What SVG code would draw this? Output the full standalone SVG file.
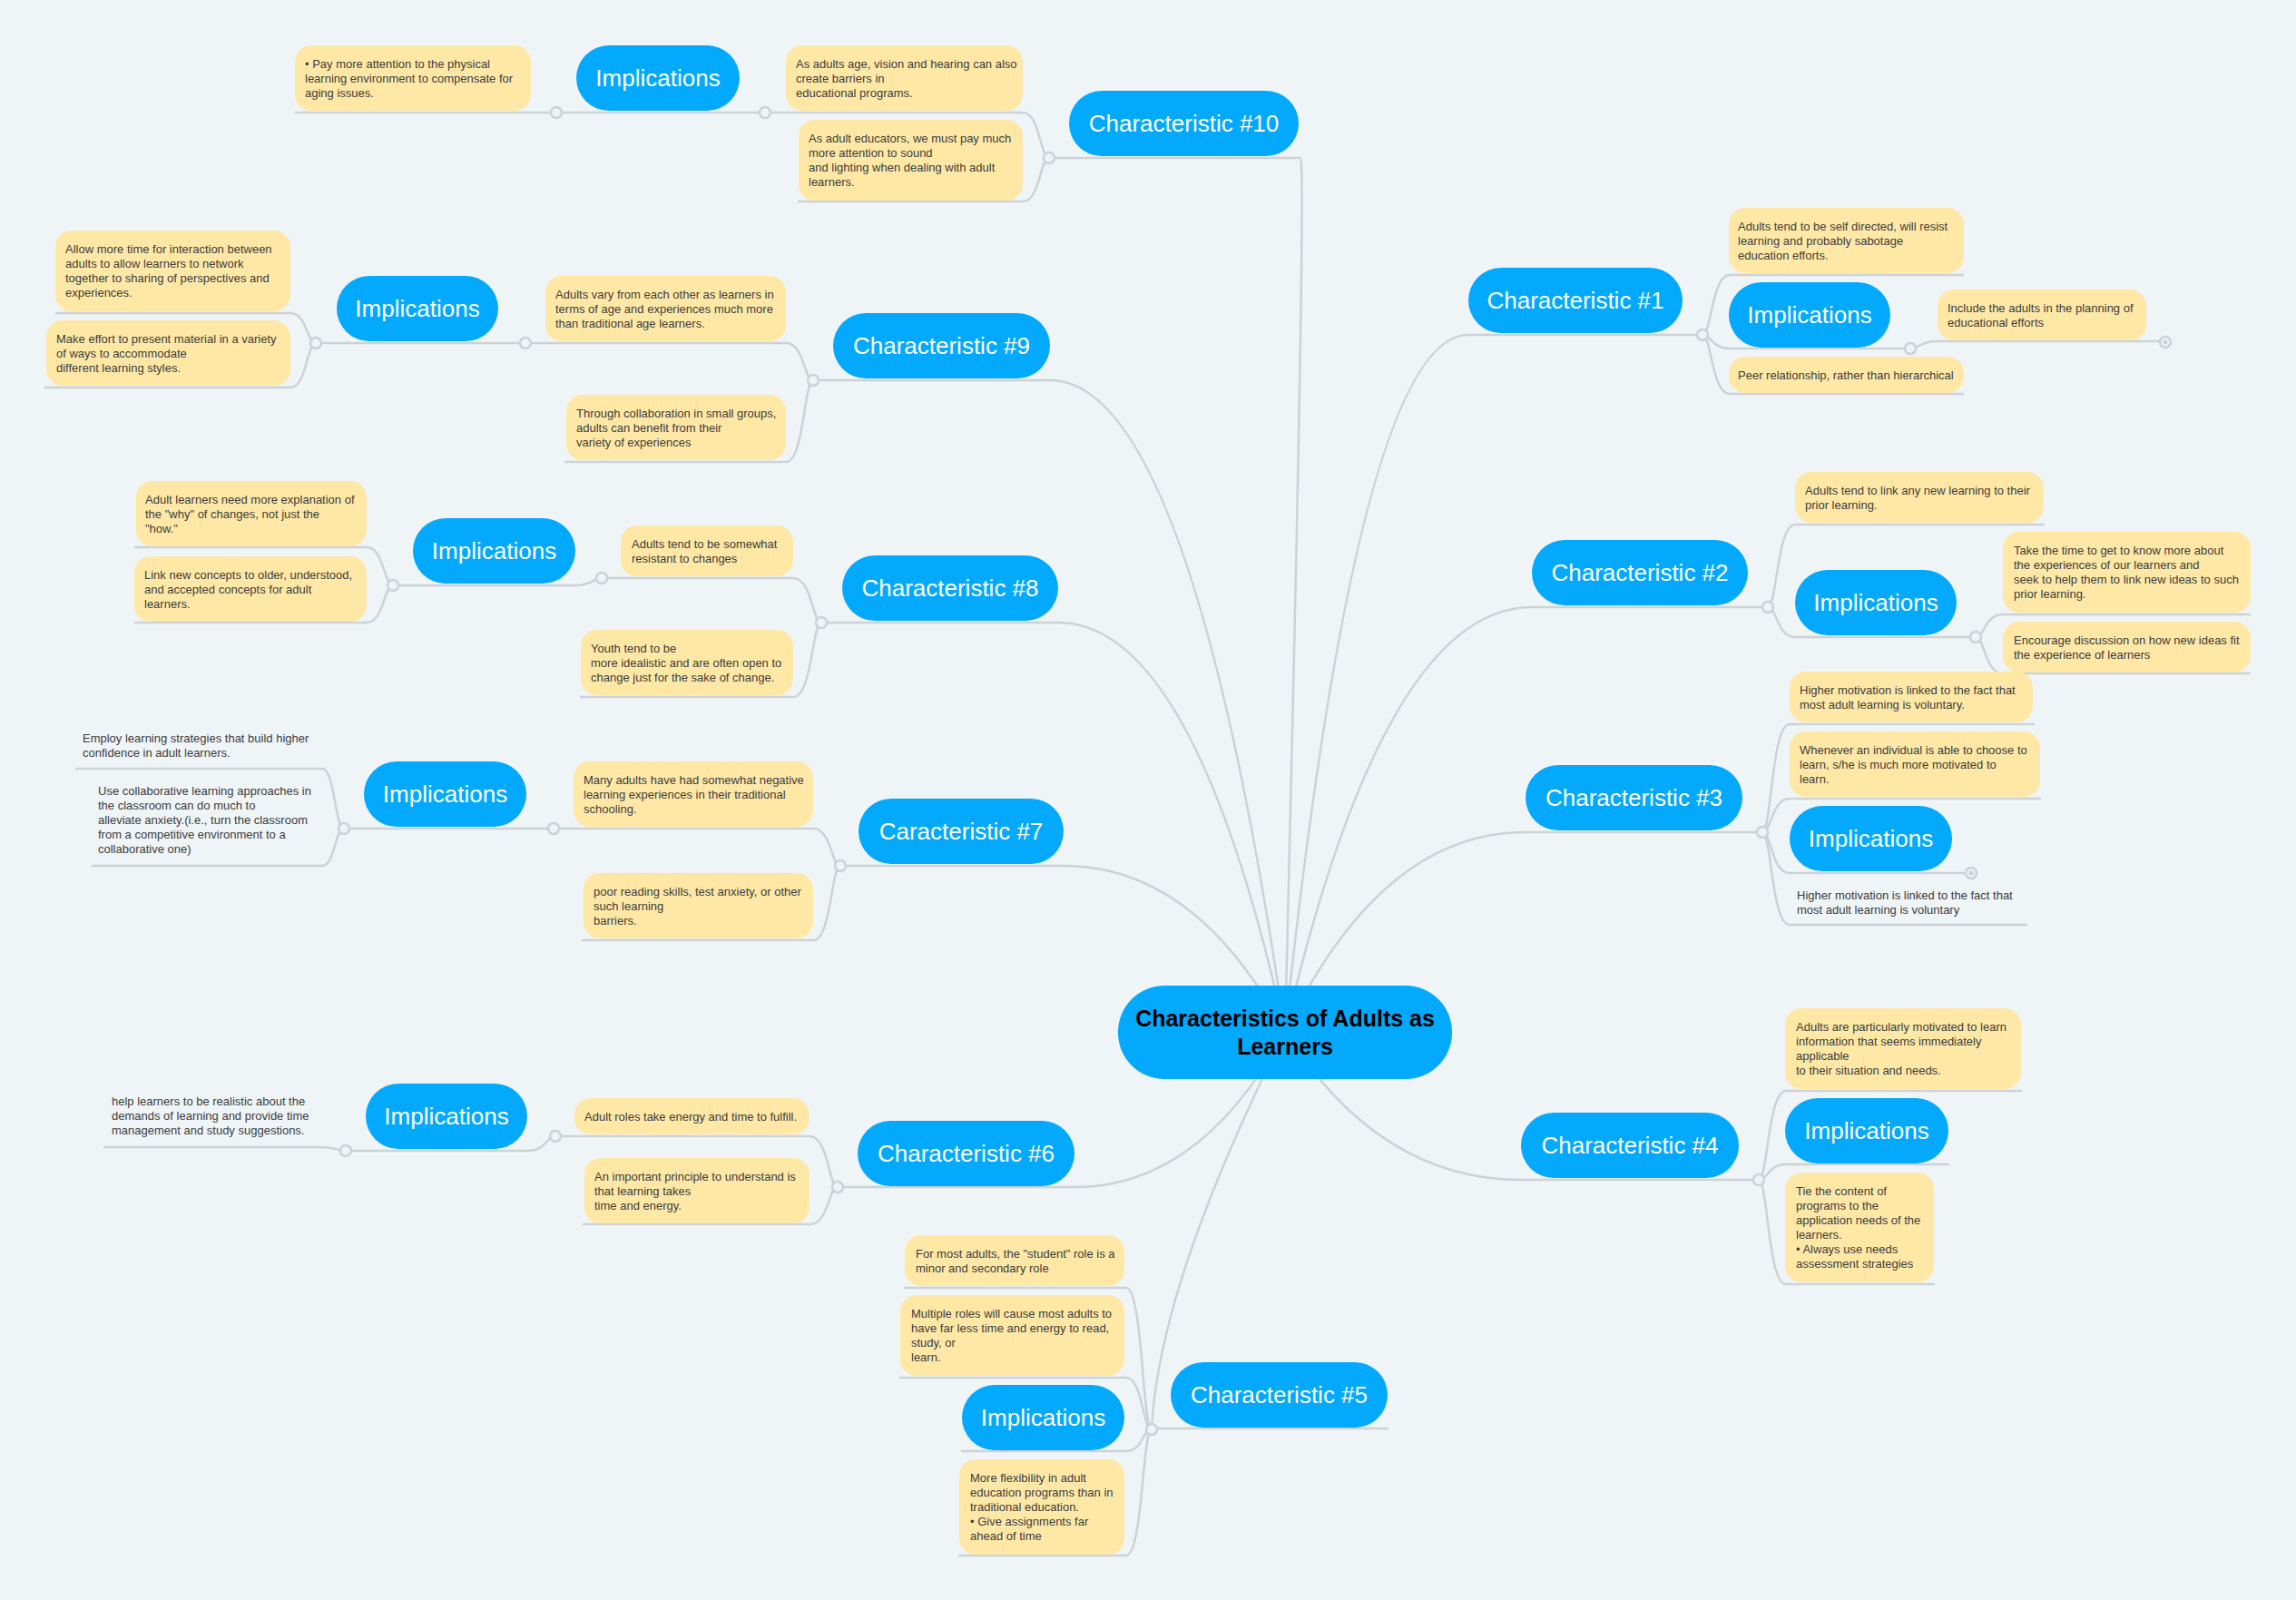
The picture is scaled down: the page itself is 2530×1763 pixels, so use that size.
<svg xmlns="http://www.w3.org/2000/svg" width="2530" height="1763" viewBox="0 0 2530 1763">
<style>
.ln{fill:none;stroke:#cdd2d6;stroke-width:2.5}
.jn{fill:#eff4f7;stroke:#cdd2d6;stroke-width:2.5}
.dot{fill:#cdd2d6}
.blue{fill:#02a9fd}
.leaf{fill:#ffe8a6}
.tb{font-family:'Liberation Sans',Arial,sans-serif;font-size:26px;fill:#ffffff;text-anchor:middle}
.tl{font-family:'Liberation Sans',Arial,sans-serif;font-size:13px;fill:#3c3c3c}
.tc{font-family:'Liberation Sans',Arial,sans-serif;font-size:25px;font-weight:bold;fill:#000000;text-anchor:middle}
</style>
<rect x="0" y="0" width="2530" height="1763" fill="#eff4f7"/>
<g id="connectors">
<!-- main branches -->
<path class="ln" d="M1416 1137 Q1440 174 1433 174"/>
<path class="ln" d="M1416 1137 Q1312 419 1157 419"/>
<path class="ln" d="M1416 1137 Q1316 686 1166 686"/>
<path class="ln" d="M1416 1137 Q1318 954 1172 954"/>
<path class="ln" d="M1416 1137 Q1323 1308 1184 1308"/>
<path class="ln" d="M1416 1137 C1340 1290 1275 1450 1269 1575"/>
<path class="ln" d="M1416 1137 Q1497 369 1618 369"/>
<path class="ln" d="M1416 1137 Q1525 669 1688 669"/>
<path class="ln" d="M1416 1137 Q1522 917 1681 917"/>
<path class="ln" d="M1416 1137 Q1520 1300 1676 1300"/>
<!-- #10 -->
<path class="ln" d="M1156 174 H1433"/>
<path class="ln" d="M843 124 H1127 C1146 124 1146 174 1156 174"/>
<path class="ln" d="M879 222 H1127 C1146 222 1146 174 1156 174"/>
<path class="ln" d="M613 124 H843"/>
<path class="ln" d="M325 124 H613"/>
<!-- #9 -->
<path class="ln" d="M896 419 H1157"/>
<path class="ln" d="M579 378 H866 C886 378 886 419 896 419"/>
<path class="ln" d="M622 509 H866 C886 509 886 419 896 419"/>
<path class="ln" d="M348 378 H579"/>
<path class="ln" d="M61 345 H320 C338 345 338 378 348 378"/>
<path class="ln" d="M49 427 H320 C338 427 338 378 348 378"/>
<!-- #8 -->
<path class="ln" d="M905 686 H1166"/>
<path class="ln" d="M663 637 H874 C895 637 895 686 905 686"/>
<path class="ln" d="M639 768 H874 C895 768 895 686 905 686"/>
<path class="ln" d="M433 645 H634 C653 645 653 637 663 637"/>
<path class="ln" d="M148 603 H404 C423 603 423 645 433 645"/>
<path class="ln" d="M148 686 H404 C423 686 423 645 433 645"/>
<!-- #7 -->
<path class="ln" d="M926 954 H1172"/>
<path class="ln" d="M610 913 H896 C916 913 916 954 926 954"/>
<path class="ln" d="M641 1036 H896 C916 1036 916 954 926 954"/>
<path class="ln" d="M379 913 H610"/>
<path class="ln" d="M83 847 H355 C369 847 369 913 379 913"/>
<path class="ln" d="M101 954 H355 C369 954 369 913 379 913"/>
<!-- #6 -->
<path class="ln" d="M923 1308 H1184"/>
<path class="ln" d="M612 1252 H892 C913 1252 913 1308 923 1308"/>
<path class="ln" d="M642 1349 H892 C913 1349 913 1308 923 1308"/>
<path class="ln" d="M381 1268 H581 C602 1268 602 1252 612 1252"/>
<path class="ln" d="M114 1264 H352 C371 1264 371 1268 381 1268"/>
<!-- #5 -->
<path class="ln" d="M1269 1574 H1530"/>
<path class="ln" d="M996 1419 H1241 C1259 1419 1259 1575 1269 1575"/>
<path class="ln" d="M991 1518 H1241 C1259 1518 1259 1575 1269 1575"/>
<path class="ln" d="M1059 1599 H1241 C1259 1599 1259 1575 1269 1575"/>
<path class="ln" d="M1056 1714 H1241 C1259 1714 1259 1575 1269 1575"/>
<!-- #1 -->
<path class="ln" d="M1618 369 H1876"/>
<path class="ln" d="M1876 369 C1886 369 1886 303 1906 303 H2164"/>
<path class="ln" d="M1876 369 C1886 369 1886 384 1906 384 H2105"/>
<path class="ln" d="M1876 369 C1886 369 1886 434 1906 434 H2164"/>
<path class="ln" d="M2105 384 C2115 384 2115 376 2135 376 H2380"/>
<!-- #2 -->
<path class="ln" d="M1688 669 H1948"/>
<path class="ln" d="M1948 669 C1958 669 1958 578 1978 578 H2253"/>
<path class="ln" d="M1948 669 C1958 669 1958 702 1978 702 H2177"/>
<path class="ln" d="M2177 702 C2187 702 2187 677 2207 677 H2480"/>
<path class="ln" d="M2177 702 C2187 702 2187 742 2207 742 H2480"/>
<!-- #3 -->
<path class="ln" d="M1681 917 H1942"/>
<path class="ln" d="M1942 917 C1952 917 1952 798 1972 798 H2242"/>
<path class="ln" d="M1942 917 C1952 917 1952 880 1972 880 H2249"/>
<path class="ln" d="M1942 917 C1952 917 1952 962 1972 962 H2166"/>
<path class="ln" d="M1942 917 C1952 917 1952 1019 1972 1019 H2234"/>
<!-- #4 -->
<path class="ln" d="M1676 1300 H1938"/>
<path class="ln" d="M1938 1300 C1948 1300 1948 1202 1968 1202 H2228"/>
<path class="ln" d="M1938 1300 C1948 1300 1948 1283 1968 1283 H2148"/>
<path class="ln" d="M1938 1300 C1948 1300 1948 1415 1968 1415 H2132"/>
<!-- junctions -->
<circle class="jn" cx="1156" cy="174" r="6"/>
<circle class="jn" cx="843" cy="124" r="6"/>
<circle class="jn" cx="613" cy="124" r="6"/>
<circle class="jn" cx="896" cy="419" r="6"/>
<circle class="jn" cx="579" cy="378" r="6"/>
<circle class="jn" cx="348" cy="378" r="6"/>
<circle class="jn" cx="905" cy="686" r="6"/>
<circle class="jn" cx="663" cy="637" r="6"/>
<circle class="jn" cx="433" cy="645" r="6"/>
<circle class="jn" cx="926" cy="954" r="6"/>
<circle class="jn" cx="610" cy="913" r="6"/>
<circle class="jn" cx="379" cy="913" r="6"/>
<circle class="jn" cx="923" cy="1308" r="6"/>
<circle class="jn" cx="612" cy="1252" r="6"/>
<circle class="jn" cx="381" cy="1268" r="6"/>
<circle class="jn" cx="1269" cy="1575" r="6"/>
<circle class="jn" cx="1876" cy="369" r="6"/>
<circle class="jn" cx="2105" cy="384" r="6"/>
<circle class="jn" cx="1948" cy="669" r="6"/>
<circle class="jn" cx="2177" cy="702" r="6"/>
<circle class="jn" cx="1942" cy="917" r="6"/>
<circle class="jn" cx="1938" cy="1300" r="6"/>
<circle class="jn" cx="2386" cy="377" r="6"/>
<circle class="dot" cx="2386" cy="377" r="2.5"/>
<circle class="jn" cx="2172" cy="962" r="6"/>
<circle class="dot" cx="2172" cy="962" r="2.5"/>
</g>

<g id="center">
<rect class="blue" x="1232" y="1086" width="368" height="103" rx="51"/>
<text class="tc"><tspan x="1416" y="1131">Characteristics of Adults as</tspan><tspan x="1416" y="1162">Learners</tspan></text>
</g>

<!-- Characteristic #10 -->
<g id="char10"><rect class="blue" x="1178" y="100" width="253" height="72" rx="36"/><text class="tb" x="1304.5" y="145">Characteristic #10</text></g>
<g id="c10-leaf-age"><rect class="leaf" x="866" y="50" width="261" height="72" rx="18"/><text class="tl"><tspan x="877" y="74.5">As adults age, vision and hearing can also</tspan><tspan x="877" y="90.5">create barriers in</tspan><tspan x="877" y="106.5">educational programs.</tspan></text></g>
<g id="c10-impl"><rect class="blue" x="635" y="50" width="180" height="72" rx="36"/><text class="tb" x="725" y="95">Implications</text></g>
<g id="c10-impl-leaf"><rect class="leaf" x="325" y="50" width="260" height="72" rx="18"/><text class="tl"><tspan x="336" y="74.5">• Pay more attention to the physical</tspan><tspan x="336" y="90.5">learning environment to compensate for</tspan><tspan x="336" y="106.5">aging issues.</tspan></text></g>
<g id="c10-leaf-educators"><rect class="leaf" x="880" y="132" width="247" height="89" rx="18"/><text class="tl"><tspan x="891" y="157">As adult educators, we must pay much</tspan><tspan x="891" y="173">more attention to sound</tspan><tspan x="891" y="189">and lighting when dealing with adult</tspan><tspan x="891" y="205">learners.</tspan></text></g>

<!-- Characteristic #9 -->
<g id="char9"><rect class="blue" x="918" y="345" width="239" height="72" rx="36"/><text class="tb" x="1037.5" y="390">Characteristic #9</text></g>
<g id="c9-leaf-vary"><rect class="leaf" x="601" y="304" width="265" height="72" rx="18"/><text class="tl"><tspan x="612" y="328.5">Adults vary from each other as learners in</tspan><tspan x="612" y="344.5">terms of age and experiences much more</tspan><tspan x="612" y="360.5">than traditional age learners.</tspan></text></g>
<g id="c9-impl"><rect class="blue" x="371" y="304" width="178" height="72" rx="36"/><text class="tb" x="460" y="349">Implications</text></g>
<g id="c9-impl-leaf1"><rect class="leaf" x="61" y="254" width="259" height="89" rx="18"/><text class="tl"><tspan x="72" y="279">Allow more time for interaction between</tspan><tspan x="72" y="295">adults to allow learners to network</tspan><tspan x="72" y="311">together to sharing of perspectives and</tspan><tspan x="72" y="327">experiences.</tspan></text></g>
<g id="c9-impl-leaf2"><rect class="leaf" x="51" y="353" width="269" height="72" rx="18"/><text class="tl"><tspan x="62" y="377.5">Make effort to present material in a variety</tspan><tspan x="62" y="393.5">of ways to accommodate</tspan><tspan x="62" y="409.5">different learning styles.</tspan></text></g>
<g id="c9-leaf-collab"><rect class="leaf" x="624" y="435" width="242" height="72" rx="18"/><text class="tl"><tspan x="635" y="459.5">Through collaboration in small groups,</tspan><tspan x="635" y="475.5">adults can benefit from their</tspan><tspan x="635" y="491.5">variety of experiences</tspan></text></g>

<!-- Characteristic #8 -->
<g id="char8"><rect class="blue" x="928" y="612" width="238" height="72" rx="36"/><text class="tb" x="1047" y="657">Characteristic #8</text></g>
<g id="c8-leaf-resistant"><rect class="leaf" x="684" y="579" width="190" height="56" rx="18"/><text class="tl"><tspan x="696" y="603.5">Adults tend to be somewhat</tspan><tspan x="696" y="619.5">resistant to changes</tspan></text></g>
<g id="c8-impl"><rect class="blue" x="455" y="571" width="179" height="72" rx="36"/><text class="tb" x="544.5" y="616">Implications</text></g>
<g id="c8-impl-leaf1"><rect class="leaf" x="150" y="530" width="254" height="72" rx="18"/><text class="tl"><tspan x="160" y="554.5">Adult learners need more explanation of</tspan><tspan x="160" y="570.5">the "why" of changes, not just the</tspan><tspan x="160" y="586.5">"how."</tspan></text></g>
<g id="c8-impl-leaf2"><rect class="leaf" x="148" y="613" width="256" height="72" rx="18"/><text class="tl"><tspan x="159" y="637.5">Link new concepts to older, understood,</tspan><tspan x="159" y="653.5">and accepted concepts for adult</tspan><tspan x="159" y="669.5">learners.</tspan></text></g>
<g id="c8-leaf-youth"><rect class="leaf" x="640" y="694" width="234" height="72" rx="18"/><text class="tl"><tspan x="651" y="718.5">Youth tend to be</tspan><tspan x="651" y="734.5">more idealistic and are often open to</tspan><tspan x="651" y="750.5">change just for the sake of change.</tspan></text></g>

<!-- Caracteristic #7 -->
<g id="char7"><rect class="blue" x="946" y="880" width="226" height="72" rx="36"/><text class="tb" x="1059" y="925">Caracteristic #7</text></g>
<g id="c7-leaf-negative"><rect class="leaf" x="632" y="839" width="264" height="72" rx="18"/><text class="tl"><tspan x="643" y="863.5">Many adults have had somewhat negative</tspan><tspan x="643" y="879.5">learning experiences in their traditional</tspan><tspan x="643" y="895.5">schooling.</tspan></text></g>
<g id="c7-impl"><rect class="blue" x="401" y="839" width="179" height="72" rx="36"/><text class="tb" x="490.5" y="884">Implications</text></g>
<g id="c7-impl-text1"><text class="tl"><tspan x="91" y="817.5">Employ learning strategies that build higher</tspan><tspan x="91" y="833.5">confidence in adult learners.</tspan></text></g>
<g id="c7-impl-text2"><text class="tl"><tspan x="108" y="876">Use collaborative learning approaches in</tspan><tspan x="108" y="892">the classroom can do much to</tspan><tspan x="108" y="908">alleviate anxiety.(i.e., turn the classroom</tspan><tspan x="108" y="924">from a competitive environment to a</tspan><tspan x="108" y="940">collaborative one)</tspan></text></g>
<g id="c7-leaf-barriers"><rect class="leaf" x="643" y="962" width="253" height="72" rx="18"/><text class="tl"><tspan x="654" y="986.5">poor reading skills, test anxiety, or other</tspan><tspan x="654" y="1002.5">such learning</tspan><tspan x="654" y="1018.5">barriers.</tspan></text></g>

<!-- Characteristic #6 -->
<g id="char6"><rect class="blue" x="945" y="1235" width="239" height="72" rx="36"/><text class="tb" x="1064.5" y="1280">Characteristic #6</text></g>
<g id="c6-leaf-roles"><rect class="leaf" x="633" y="1210" width="259" height="40" rx="18"/><text class="tl"><tspan x="644" y="1234.5">Adult roles take energy and time to fulfill.</tspan></text></g>
<g id="c6-impl"><rect class="blue" x="403" y="1194" width="178" height="72" rx="36"/><text class="tb" x="492" y="1239">Implications</text></g>
<g id="c6-impl-text"><text class="tl"><tspan x="123" y="1218">help learners to be realistic about the</tspan><tspan x="123" y="1234">demands of learning and provide time</tspan><tspan x="123" y="1250">management and study suggestions.</tspan></text></g>
<g id="c6-leaf-principle"><rect class="leaf" x="644" y="1276" width="248" height="72" rx="18"/><text class="tl"><tspan x="655" y="1300.5">An important principle to understand is</tspan><tspan x="655" y="1316.5">that learning takes</tspan><tspan x="655" y="1332.5">time and energy.</tspan></text></g>

<!-- Characteristic #5 -->
<g id="char5"><rect class="blue" x="1290" y="1501" width="239" height="72" rx="36"/><text class="tb" x="1409.5" y="1546">Characteristic #5</text></g>
<g id="c5-leaf-student"><rect class="leaf" x="997" y="1361" width="242" height="56" rx="18"/><text class="tl"><tspan x="1009" y="1385.5">For most adults, the "student" role is a</tspan><tspan x="1009" y="1401.5">minor and secondary role</tspan></text></g>
<g id="c5-leaf-multiple"><rect class="leaf" x="992" y="1427" width="247" height="89" rx="18"/><text class="tl"><tspan x="1004" y="1452">Multiple roles will cause most adults to</tspan><tspan x="1004" y="1468">have far less time and energy to read,</tspan><tspan x="1004" y="1484">study, or</tspan><tspan x="1004" y="1500">learn.</tspan></text></g>
<g id="c5-impl"><rect class="blue" x="1060" y="1526" width="179" height="72" rx="36"/><text class="tb" x="1149.5" y="1571">Implications</text></g>
<g id="c5-leaf-flex"><rect class="leaf" x="1057" y="1608" width="182" height="105" rx="18"/><text class="tl"><tspan x="1069" y="1633">More flexibility in adult</tspan><tspan x="1069" y="1649">education programs than in</tspan><tspan x="1069" y="1665">traditional education.</tspan><tspan x="1069" y="1681">• Give assignments far</tspan><tspan x="1069" y="1697">ahead of time</tspan></text></g>

<!-- Characteristic #1 -->
<g id="char1"><rect class="blue" x="1618" y="295" width="236" height="72" rx="36"/><text class="tb" x="1736" y="340">Characteristic #1</text></g>
<g id="c1-leaf-self"><rect class="leaf" x="1905" y="229" width="259" height="72" rx="18"/><text class="tl"><tspan x="1915" y="253.5">Adults tend to be self directed, will resist</tspan><tspan x="1915" y="269.5">learning and probably sabotage</tspan><tspan x="1915" y="285.5">education efforts.</tspan></text></g>
<g id="c1-impl"><rect class="blue" x="1905" y="311" width="178" height="72" rx="36"/><text class="tb" x="1994" y="356">Implications</text></g>
<g id="c1-impl-leaf"><rect class="leaf" x="2135" y="319" width="230" height="56" rx="18"/><text class="tl"><tspan x="2146" y="343.5">Include the adults in the planning of</tspan><tspan x="2146" y="359.5">educational efforts</tspan></text></g>
<g id="c1-leaf-peer"><rect class="leaf" x="1905" y="393" width="259" height="40" rx="18"/><text class="tl"><tspan x="1915" y="417.5">Peer relationship, rather than hierarchical</tspan></text></g>

<!-- Characteristic #2 -->
<g id="char2"><rect class="blue" x="1688" y="595" width="238" height="72" rx="36"/><text class="tb" x="1807" y="640">Characteristic #2</text></g>
<g id="c2-leaf-link"><rect class="leaf" x="1978" y="520" width="274" height="56" rx="18"/><text class="tl"><tspan x="1989" y="544.5">Adults tend to link any new learning to their</tspan><tspan x="1989" y="560.5">prior learning.</tspan></text></g>
<g id="c2-impl"><rect class="blue" x="1978" y="628" width="178" height="72" rx="36"/><text class="tb" x="2067" y="673">Implications</text></g>
<g id="c2-impl-leaf1"><rect class="leaf" x="2207" y="586" width="273" height="89" rx="18"/><text class="tl"><tspan x="2219" y="611">Take the time to get to know more about</tspan><tspan x="2219" y="627">the experiences of our learners and</tspan><tspan x="2219" y="643">seek to help them to link new ideas to such</tspan><tspan x="2219" y="659">prior learning.</tspan></text></g>
<g id="c2-impl-leaf2"><rect class="leaf" x="2207" y="685" width="273" height="56" rx="18"/><text class="tl"><tspan x="2219" y="709.5">Encourage discussion on how new ideas fit</tspan><tspan x="2219" y="725.5">the experience of learners</tspan></text></g>

<!-- Characteristic #3 -->
<g id="char3"><rect class="blue" x="1681" y="843" width="239" height="72" rx="36"/><text class="tb" x="1800.5" y="888">Characteristic #3</text></g>
<g id="c3-leaf-higher"><rect class="leaf" x="1972" y="740" width="268" height="56" rx="18"/><text class="tl"><tspan x="1983" y="764.5">Higher motivation is linked to the fact that</tspan><tspan x="1983" y="780.5">most adult learning is voluntary.</tspan></text></g>
<g id="c3-leaf-whenever"><rect class="leaf" x="1972" y="806" width="276" height="72" rx="18"/><text class="tl"><tspan x="1983" y="830.5">Whenever an individual is able to choose to</tspan><tspan x="1983" y="846.5">learn, s/he is much more motivated to</tspan><tspan x="1983" y="862.5">learn.</tspan></text></g>
<g id="c3-impl"><rect class="blue" x="1972" y="888" width="179" height="72" rx="36"/><text class="tb" x="2061.5" y="933">Implications</text></g>
<g id="c3-text"><text class="tl"><tspan x="1980" y="990.5">Higher motivation is linked to the fact that</tspan><tspan x="1980" y="1006.5">most adult learning is voluntary</tspan></text></g>

<!-- Characteristic #4 -->
<g id="char4"><rect class="blue" x="1676" y="1226" width="240" height="72" rx="36"/><text class="tb" x="1796" y="1271">Characteristic #4</text></g>
<g id="c4-leaf-motivated"><rect class="leaf" x="1967" y="1111" width="260" height="89" rx="18"/><text class="tl"><tspan x="1979" y="1136">Adults are particularly motivated to learn</tspan><tspan x="1979" y="1152">information that seems immediately</tspan><tspan x="1979" y="1168">applicable</tspan><tspan x="1979" y="1184">to their situation and needs.</tspan></text></g>
<g id="c4-impl"><rect class="blue" x="1967" y="1210" width="180" height="72" rx="36"/><text class="tb" x="2057" y="1255">Implications</text></g>
<g id="c4-leaf-tie"><rect class="leaf" x="1967" y="1292" width="164" height="121" rx="18"/><text class="tl"><tspan x="1979" y="1317">Tie the content of</tspan><tspan x="1979" y="1333">programs to the</tspan><tspan x="1979" y="1349">application needs of the</tspan><tspan x="1979" y="1365">learners.</tspan><tspan x="1979" y="1381">• Always use needs</tspan><tspan x="1979" y="1397">assessment strategies</tspan></text></g>
</svg>
